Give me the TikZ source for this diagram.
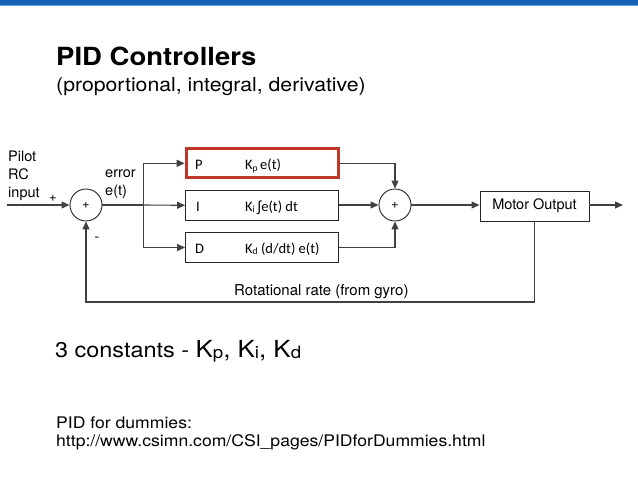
\documentclass[tikz,border=0pt]{standalone}
\usepackage{fontspec}
\setmainfont{TeX Gyre Heros}
\newfontfamily\slidefont[FakeStretch=1.1]{TeX Gyre Heros}
\newfontfamily\boxfont{Carlito}
\newfontfamily\symfont{Liberation Sans}
\usetikzlibrary{arrows.meta}
\definecolor{barblue}{RGB}{22,98,182}
\definecolor{barlight}{RGB}{90,165,225}
\definecolor{linegray}{RGB}{65,65,65}
\definecolor{pred}{RGB}{190,55,40}
\newcommand\ksub[1]{\raisebox{-1.5pt}{\fontsize{9.5}{9.5}\selectfont #1}}
\newcommand\bigsub[1]{\raisebox{-1.5pt}{\fontsize{17}{17}\selectfont #1}}
\begin{document}
\begin{tikzpicture}[x=1pt,y=-1pt,
  conn/.style={draw=linegray,line width=1.1pt},
  arr/.style={conn,-{Triangle[length=8pt,width=7pt]}},
  sumnode/.style={circle,draw=black!85,line width=0.9pt,minimum size=32pt,inner sep=0pt,font=\fontsize{13}{13}\selectfont},
  blk/.style={draw=black!85,line width=0.9pt,minimum width=153pt,minimum height=29.5pt,inner sep=0pt},
  lbl/.style={inner sep=0pt,anchor=base west,font=\fontsize{14.5}{18}\selectfont},
  btxt/.style={inner sep=0pt,anchor=base west,font=\boxfont\fontsize{14.5}{14.5}\selectfont},
  slide/.style={inner sep=0pt,anchor=base west},
]
\useasboundingbox (0,0) rectangle (638,479);
\fill[white] (0,0) rectangle (638,479);
\fill[barblue] (0,0) rectangle (638,4.5);
\fill[barlight] (0,4.5) rectangle (638,6);

% slide text
\node[slide,font=\slidefont\bfseries\fontsize{25}{25}\selectfont] (title) at (56,65) {PID Controllers};
\node[slide,font=\slidefont\fontsize{19.3}{19.3}\selectfont] (subtitle) at (56,91) {(proportional, integral, derivative)};
\node[slide,font=\slidefont\fontsize{21.3}{21.3}\selectfont] (consts) at (55,357) {3 constants - {\fontsize{23.5}{23.5}\selectfont K\bigsub{p}, K\bigsub{i}, K\bigsub{d}}};
\node[slide,font=\slidefont\fontsize{16}{16}\selectfont] (dummies) at (56,428) {PID for dummies:};
\node[slide,font=\slidefont\fontsize{16}{16}\selectfont] (url) at (56,446) {http://www.csimn.com/CSI\_pages/PIDforDummies.html};

% diagram nodes
\node[sumnode] (S1) at (86,205) {+};
\node[sumnode] (S2) at (395,205) {+};
\node[blk,draw=pred,line width=3pt,minimum width=152pt,minimum height=29pt] (P) at (262.2,163.3) {};
\node[blk] (I) at (262,205.3) {};
\node[blk] (D) at (262,247.5) {};
\node[draw=black!85,line width=0.9pt,minimum width=109pt,minimum height=30pt,inner sep=0pt,font=\fontsize{14.5}{14.5}\selectfont] (M) at (534.5,206) {Motor Output};

\node[btxt] (Pl) at (195,169.5) {P};
\node[btxt] (Pf) at (245,169.5) {K\ksub{p}\,e(t)};
\node[btxt] (Il) at (196,211) {I};
\node[btxt] (If) at (245,211) {K\ksub{i}\,{\symfont ∫}e(t) dt};
\node[btxt] (Dl) at (195,253) {D};
\node[btxt] (Df) at (245,253) {K\ksub{d} (d/dt) e(t)};

\node[lbl] (pilot1) at (8,161) {Pilot};
\node[lbl] (pilot2) at (8,179) {RC};
\node[lbl] (pilot3) at (8,197) {input};
\node[lbl,font=\fontsize{13}{13}\selectfont] (plus) at (49,201) {+};
\node[lbl,font=\fontsize{14}{14}\selectfont] (minus) at (94.5,241) {-};
\node[lbl] (err1) at (105,177) {error};
\node[lbl] (err2) at (105,195) {e(t)};
\node[lbl,font=\fontsize{15}{15}\selectfont] (rot) at (234,295) {Rotational rate (from gyro)};

% connectors
\coordinate (in) at (7,205);
\coordinate (br) at (143.3,205);
\coordinate (out) at (623,205);
\coordinate (fb) at (86,302);
\draw[arr] (in) -- (S1);
\draw[conn] (S1) -- (br);
\draw[conn] (br |- P) -- (br |- D);
\draw[arr] (br |- P) -- (P.west);
\draw[arr] (br) -- (I.west);
\draw[arr] (br |- D) -- (D.west);
\draw[arr] (P.east) -| (S2.north);
\draw[arr] (I.east |- S2) -- (S2.west);
\draw[arr] (D.east) -| (S2.south);
\draw[arr] (S2) -- (S2 -| M.west);
\draw[arr] (S2 -| M.east) -- (out);
\draw[arr] (M.south) |- (fb) -- (S1.south);
\end{tikzpicture}
\end{document}
